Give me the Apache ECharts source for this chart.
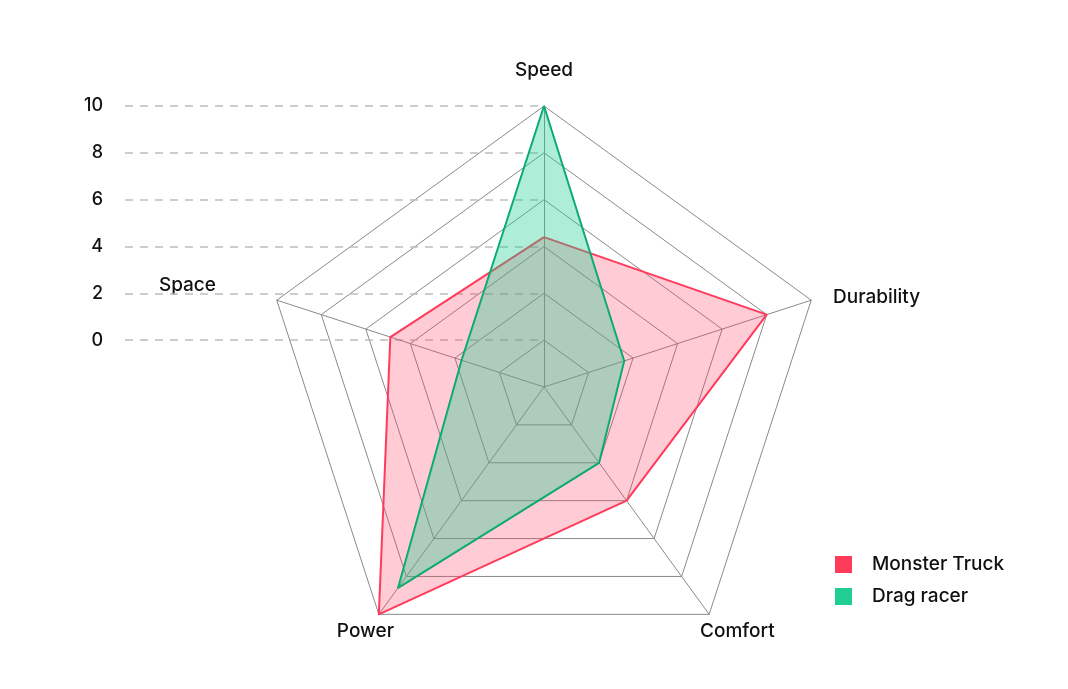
<!DOCTYPE html>
<html>
<head>
<meta charset="utf-8">
<script src="https://cdn.jsdelivr.net/npm/echarts@6/dist/echarts.min.js"></script>
<style>
html,body{margin:0;padding:0;background:#fff;}
#chart{width:1068px;height:689px;}
</style>
</head>
<body>
<div id="chart"></div>
<script>
// Indicators listed in ECharts radar order (counter-clockwise from top)
const categories = ['Speed', 'Space', 'Power', 'Comfort', 'Durability'];
const monsterTruck = [4.4, 4.9, 10, 4, 8];
const dragRacer = [10, 1.7, 8.6, 2, 1.6];
const seriesNames = ['Monster Truck', 'Drag racer'];
const scaleTicks = [0, 2, 4, 6, 8, 10];
const scaleMin = -2, scaleMax = 10;

const FONT = 'Inter, "Noto Sans", sans-serif';
const TXT = '500 19px ' + FONT;
const CX = 544, CY = 387, R = 281;
const ringStep = R / ((scaleMax - scaleMin) / 2);

const chart = echarts.init(document.getElementById('chart'), null, {renderer: 'canvas'});

chart.setOption({
  backgroundColor: '#fff',
  animation: false,
  textStyle: {fontFamily: FONT},
  grid: {
    left: 125,
    width: CX - 125,
    top: CY - R,
    height: R - ringStep,
    containLabel: false
  },
  xAxis: {type: 'value', show: false, min: 0, max: 1},
  yAxis: {
    type: 'value',
    min: scaleTicks[0],
    max: scaleTicks[scaleTicks.length - 1],
    interval: 2,
    axisLine: {show: false},
    axisTick: {show: false},
    axisLabel: {
      color: '#111',
      fontSize: 18,
      fontWeight: 500,
      fontFamily: FONT,
      margin: 22,
      padding: [10, 0, 0, 0]
    },
    splitLine: {
      show: true,
      lineStyle: {color: '#bdbdbd', width: 1.5, type: [8, 7]}
    }
  },
  legend: {
    data: seriesNames,
    orient: 'vertical',
    left: 830,
    top: 550,
    icon: 'rect',
    itemWidth: 17,
    itemHeight: 17,
    itemGap: 13,
    textStyle: {fontSize: 19, fontWeight: 500, color: '#111', fontFamily: FONT, padding: [0, 0, 0, 15]}
  },
  radar: {
    center: [CX, CY],
    radius: R,
    startAngle: 90,
    splitNumber: 6,
    shape: 'polygon',
    indicator: categories.map(n => ({name: n, min: scaleMin, max: scaleMax})),
    axisName: {show: false},
    axisLine: {lineStyle: {color: '#8a8a8a', width: 1}},
    splitLine: {lineStyle: {color: '#8a8a8a', width: 1}},
    splitArea: {show: false},
    axisTick: {show: false},
    axisLabel: {show: false}
  },
  series: [{
    type: 'radar',
    symbol: 'none',
    z: 3,
    data: [
      {
        name: seriesNames[0],
        value: monsterTruck,
        itemStyle: {color: '#FF3B5C'},
        lineStyle: {color: '#FF3B5C', width: 2},
        areaStyle: {color: 'rgba(255,59,92,0.38)'}
      },
      {
        name: seriesNames[1],
        value: dragRacer,
        itemStyle: {color: '#20CD92'},
        lineStyle: {color: '#06A46C', width: 2},
        areaStyle: {color: 'rgba(32,205,146,0.52)'}
      }
    ]
  }],
  graphic: [
    {type: 'text', style: {text: 'Speed', x: 544, y: 70, align: 'center', verticalAlign: 'middle', fill: '#111', font: TXT}},
    {type: 'text', style: {text: 'Durability', x: 833, y: 297, align: 'left', verticalAlign: 'middle', fill: '#111', font: TXT}},
    {type: 'text', style: {text: 'Comfort', x: 700, y: 631, align: 'left', verticalAlign: 'middle', fill: '#111', font: TXT}},
    {type: 'text', style: {text: 'Power', x: 394, y: 631, align: 'right', verticalAlign: 'middle', fill: '#111', font: TXT}},
    {type: 'text', style: {text: 'Space', x: 216, y: 285, align: 'right', verticalAlign: 'middle', fill: '#111', font: TXT}}
  ]
});
</script>
</body>
</html>
